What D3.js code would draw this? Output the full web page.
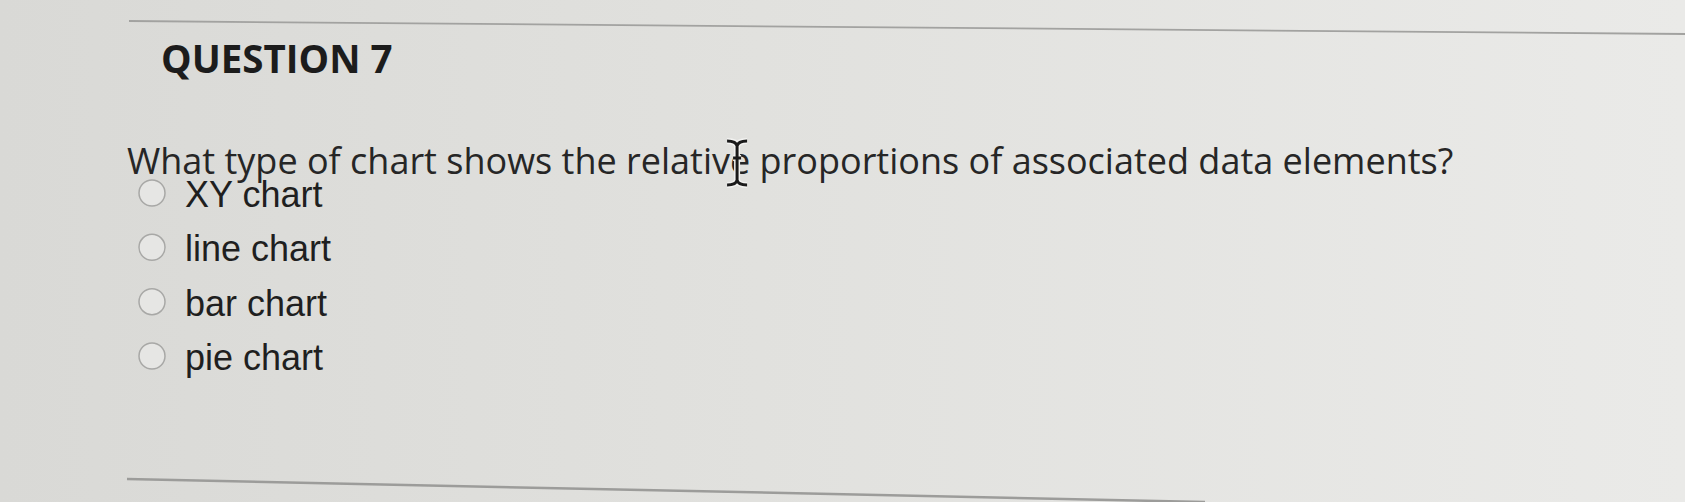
<html>
<head>
<script src="https://d3js.org/d3.v7.min.js"></script>
<style>
  body { margin: 0; background: #e2e2df; overflow: hidden; }
  .title { font-family: 'Open Sans', sans-serif; font-weight: bold; fill: #1c1c1c; }
  .question { font-family: 'Open Sans', sans-serif; fill: #262626; }
  .option { font-family: 'Liberation Sans', Arial, sans-serif; fill: #1f1f1f; }
</style>
</head>
<body>
<svg id="chart" width="1685" height="502"></svg>
<script>
// quiz content
const questionTitle = "QUESTION 7";
const questionText = "What type of chart shows the relative proportions of associated data elements?";
const options = ["XY chart", "line chart", "bar chart", "pie chart"];

var width = 1685;
var height = 502;

var svg = d3.select("#chart");

// background, photo of a screen: a bit darker on the left
var defs = svg.append("defs");
var grad = defs.append("linearGradient").attr("id", "bg");
grad.append("stop").attr("offset", "0%").attr("stop-color", "#d9d9d6");
grad.append("stop").attr("offset", "45%").attr("stop-color", "#e1e1de");
grad.append("stop").attr("offset", "100%").attr("stop-color", "#eaeae8");

svg.append("rect")
   .attr("width", width)
   .attr("height", height)
   .attr("fill", "url(#bg)");

// separator lines (slightly tilted in the photo)
svg.append("line")
   .attr("x1", 129).attr("y1", 21)
   .attr("x2", 1685).attr("y2", 34)
   .attr("stroke", "#a2a2a0")
   .attr("stroke-width", 1.8);

svg.append("line")
   .attr("x1", 127).attr("y1", 479)
   .attr("x2", 1205).attr("y2", 502)
   .attr("stroke", "#9c9c9a")
   .attr("stroke-width", 2.5);

// title
svg.append("text")
   .attr("class", "title")
   .attr("x", 161)
   .attr("y", 73)
   .style("font-size", "38.5px")
   .text(questionTitle);

// question
var q = svg.append("text")
   .attr("class", "question")
   .attr("x", 127)
   .attr("y", 174)
   .style("font-size", "36px")
   .text(questionText);

// answer options laid out with a point scale
var yScale = d3.scalePoint()
   .domain(options)
   .range([193, 356]);

var rows = svg.append("g")
   .selectAll("g")
   .data(options)
   .enter()
   .append("g")
   .attr("transform", d => "translate(0," + yScale(d) + ")");

rows.append("circle")
   .attr("cx", 152)
   .attr("cy", 0)
   .attr("r", 13)
   .attr("fill", "#e6e6e4")
   .attr("stroke", "#a8a8a6")
   .attr("stroke-width", 1.5);

rows.append("text")
   .attr("class", "option")
   .attr("x", 185)
   .attr("y", 14)
   .style("font-size", "36px")
   .text(d => d);

// I-beam cursor sitting on the "e" of "relative"
var idx = questionText.indexOf("relative") + 7;
var node = q.node();
var beamX = 127 + node.getSubStringLength(0, idx) + node.getSubStringLength(idx, 1) * 0.35;
var beamTop = 141, beamBot = 185;
var beam = "M" + beamX + "," + (beamTop + 3) + " L" + beamX + "," + (beamBot - 3)
   + " M" + (beamX - 10) + "," + beamTop + " Q" + (beamX - 1) + "," + beamTop + " " + beamX + "," + (beamTop + 5)
   + " Q" + (beamX + 1) + "," + beamTop + " " + (beamX + 10) + "," + beamTop
   + " M" + (beamX - 10) + "," + beamBot + " Q" + (beamX - 1) + "," + beamBot + " " + beamX + "," + (beamBot - 5)
   + " Q" + (beamX + 1) + "," + beamBot + " " + (beamX + 10) + "," + beamBot
   + " M" + (beamX - 4) + "," + (beamTop + 17) + " L" + (beamX + 4) + "," + (beamTop + 17);
var cursor = svg.append("g").attr("fill", "none");
cursor.append("path").attr("d", beam).attr("stroke", "#f2f2f0").attr("stroke-width", 6);
cursor.append("path").attr("d", beam).attr("stroke", "#1a1a1a").attr("stroke-width", 3);
</script>
</body>
</html>
